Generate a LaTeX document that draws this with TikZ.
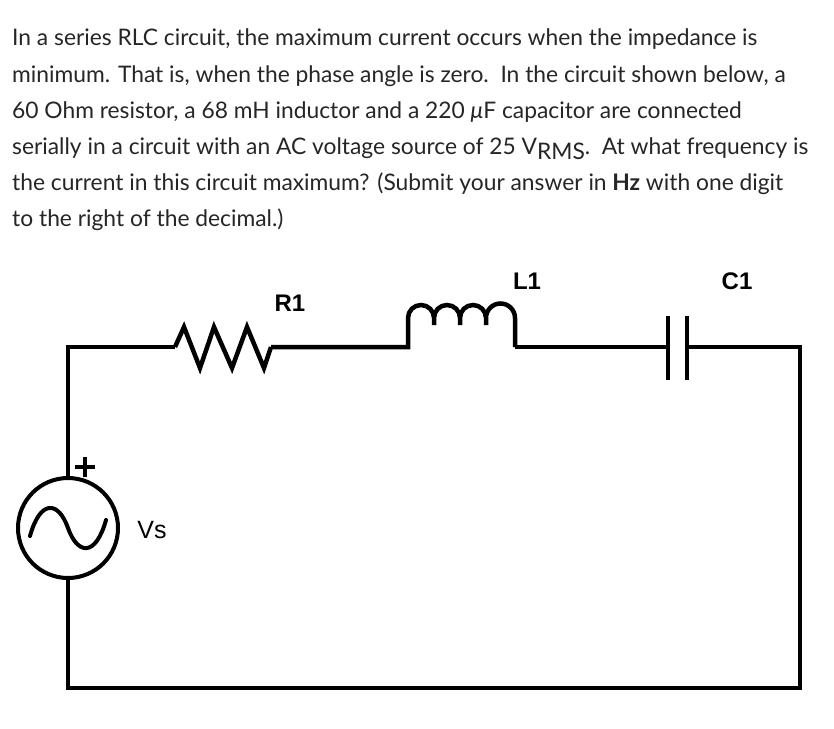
\documentclass[tikz,border=0pt]{standalone}
\usepackage{fontspec}
\setmainfont{Lato}
\newfontfamily\arialf{Liberation Sans}
\begin{document}
\begin{tikzpicture}[x=1pt,y=-1pt,
  txt/.style={anchor=base west,inner sep=0,font=\fontsize{22.8}{27}\selectfont,text=black!85},
  lbl/.style={inner sep=0,font=\arialf\bfseries\fontsize{24}{28}\selectfont},
  wire/.style={line width=4.5pt,line join=miter}]
\useasboundingbox (0,0) rectangle (834,728);
\fill[white] (0,0) rectangle (834,728);
\node[txt] (t1) at (12,45) {In a series RLC circuit, the maximum current occurs when the impedance is};
\node[txt] (t2) at (12,82) {minimum. That is, when the phase angle is zero.\ \ In the circuit shown below, a};
\node[txt] (t3) at (12,118) {60 Ohm resistor, a 68 mH inductor and a 220 \textit{μ}F capacitor are connected};
\node[txt] (t4) at (12,154) {serially in a circuit with an AC voltage source of 25 V\raisebox{-5pt}{RMS}.\ \ At what frequency is};
\node[txt] (t5) at (12,190) {the current in this circuit maximum? (Submit your answer in \textbf{Hz} with one digit};
\node[txt] (t6) at (12,226) {to the right of the decimal.)};
\coordinate (src) at (68,528);
\coordinate (tl) at (68,347);
\coordinate (tr) at (800,347);
\coordinate (bl) at (68,688);
\coordinate (br) at (800,688);
\coordinate (ra) at (175,347);
\coordinate (rb) at (271,347);
\coordinate (la) at (408,347);
\coordinate (lb) at (515,347);
\coordinate (ca) at (668,347);
\coordinate (cb) at (687,347);
\draw[wire] (68,478) -- (tl) -- (ra);
\draw[wire] (ra) -- (184,327) -- (200,368) -- (214,327) -- (232,368) -- (247,327) -- (264,368) -- (rb);
\draw[wire] (rb) -- (la) -- (408,318)
  arc[start angle=180,end angle=360,radius=13] -- (434,325) (434,318)
  arc[start angle=180,end angle=360,radius=13] -- (460,325) (460,318)
  arc[start angle=180,end angle=360,radius=13] -- (486,325) (486,318)
  arc[start angle=180,end angle=360,radius=14.5] -- (lb);
\draw[wire] (lb) -- (ca);
\draw[wire] (668,316) -- (668,380);
\draw[wire] (687,316) -- (687,380);
\draw[wire] (cb) -- (tr) -- (br) -- (bl) -- (68,578);
\draw[line width=4pt] (src) circle[radius=50];
\draw[line width=4pt,line cap=round] (30,536) .. controls (40,500) and (58,500) .. (68,528) .. controls (78,556) and (96,556) .. (106,520);
\draw[line width=3.5pt] (75,467) -- (95,467) (85,457) -- (85,477);
\node[lbl] (r1) at (290,303) {R1};
\node[lbl] (l1) at (527,281) {L1};
\node[lbl] (c1) at (737,281) {C1};
\node[inner sep=0,font=\arialf\fontsize{25}{29}\selectfont] (vs) at (152,530) {Vs};
\end{tikzpicture}
\end{document}
